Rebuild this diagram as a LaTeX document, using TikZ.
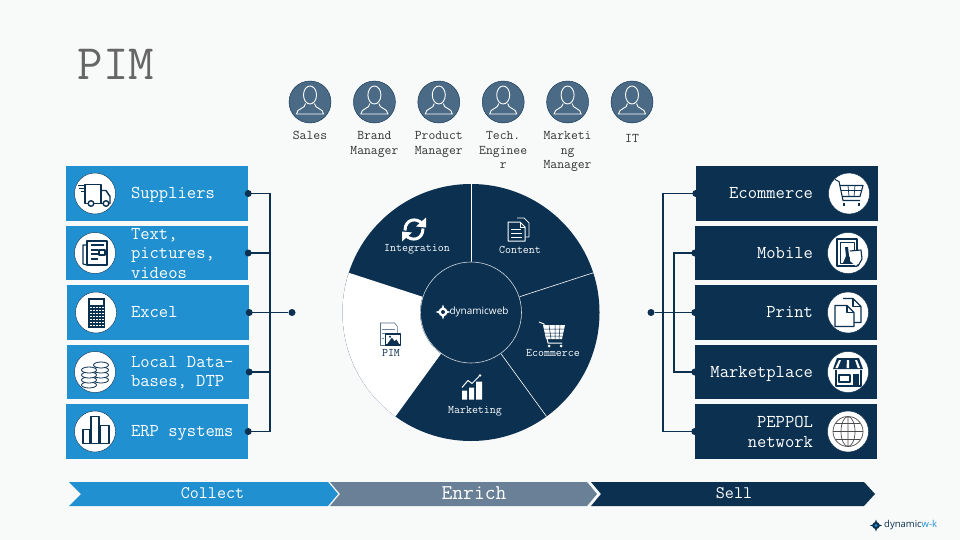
\documentclass[tikz,border=0pt]{standalone}
\usepackage{fontspec}
\usepackage{tikz}
\usetikzlibrary{positioning}
\newfontfamily\logofont{Open Sans}
\definecolor{pagebg}{HTML}{F8F9F9}
\definecolor{dwblue}{HTML}{2090D0}
\definecolor{dwdark}{HTML}{0B3050}
\definecolor{dwgrey}{HTML}{6A8096}
\definecolor{dwperson}{HTML}{4A6A85}
\tikzset{
  srcbox/.style={fill=dwblue, minimum width=182pt, minimum height=54.5pt, inner sep=0pt},
  sinkbox/.style={fill=dwdark, minimum width=182pt, minimum height=54.5pt, inner sep=0pt},
  iconring/.style={circle, fill=white, draw=dwdark, thin, minimum size=41pt, inner sep=0pt},
  person/.style={circle, fill=dwperson, draw=dwdark, thin, minimum size=42pt, inner sep=0pt},
  boxlabel/.style={inner sep=0pt, text=white, font=\ttfamily\fontsize{18.1}{19.5}\selectfont},
  boxline/.style={boxlabel, text height=13pt, text depth=3pt},
  rolelabel/.style={inner sep=0pt, align=center, text=black!80, font=\ttfamily\fontsize{13.3}{14.6}\selectfont},
  slicelabel/.style={inner sep=0pt, text=white, font=\ttfamily\fontsize{11.6}{12}\selectfont},
  steplabel/.style={inner sep=0pt, text=white, font=\ttfamily\fontsize{17.6}{20}\selectfont},
  wire/.style={draw=dwdark, line width=1.6pt},
  wiredot/.style={circle, fill=dwdark, minimum size=7pt, inner sep=0pt},
  icon/.style={draw=dwdark, line width=1.1pt, line join=round},
  iconw/.style={draw=white, line width=1pt, line join=round},
  pics/usericon/.style={code={
    \draw[white, line width=.9pt] (0,-7) ellipse (6.5 and 9);
    \draw[white, line width=.9pt] (-4.5,1.5) .. controls (-4.5,7) and (-13.5,6) .. (-13.5,12) -- (13.5,12)
      .. controls (13.5,6) and (4.5,7) .. (4.5,1.5);
  }},
  pics/truckicon/.style={code={
    \draw[icon, line width=1.4pt] (-10,7) -- (-10,-9) -- (6,-9) -- (6,10) -- (-1,10) (-7,10) -- (-10,10) -- (-10,7);
    \draw[icon, line width=1.4pt] (6,-3) -- (11,-3) -- (15,3) -- (15,10) -- (14,10) (8,10) -- (6,10);
    \draw[icon, line width=1.4pt] (-4,10) circle (2.8) (11,10) circle (2.8);
    \draw[icon] (-17,-8) -- (-10,-8) (-16,-5) -- (-10,-5) (-14,-2) -- (-10,-2);
  }},
  pics/newsicon/.style={code={
    \draw[icon, line width=1.3pt] (-8,-12) rectangle (12,12);
    \draw[icon] (-8,-8) -- (-12,-8) -- (-12,11) -- (-8,12);
    \draw[icon] (-4,-3) -- (3,-3) (-4,1) -- (3,1) (-4,6) -- (3,6);
    \draw[icon] (4,-3) rectangle (10,2);
    \draw[icon] (-4,-8) -- (9,-8);
  }},
  pics/calcicon/.style={code={
    \fill[dwdark] (-8,-15) rectangle (9,15);
    \fill[white] (-6,-13) rectangle (7,-8);
    \foreach \gx in {-5,-2,1,4,7} \foreach \gy in {-5,-2,1,4,7,10,13}
      \fill[white] (\gx-.6,\gy-.6) rectangle (\gx+.6,\gy+.6);
  }},
  pics/coinsicon/.style={code={
    \foreach \cy in {5,0,-5,-10}
      \draw[icon, line width=.8pt, fill=white] (6,\cy+3) ellipse (7.5 and 3);
    \foreach \cy in {13,8,3,-2}
      \draw[icon, line width=.8pt, fill=white] (-6,\cy) ellipse (7.5 and 3);
  }},
  pics/barsicon/.style={code={
    \draw[icon, line width=1.6pt] (-12,12) rectangle (-5,-2);
    \draw[icon, line width=1.6pt] (-4,12) rectangle (4,-15);
    \draw[icon, line width=1.6pt] (5,12) rectangle (14,-6);
  }},
  pics/carticon/.style={code={
    \draw[icon] (-14,-14) -- (-10,-12) -- (-6,7) -- (11,7);
    \draw[icon] (-9,-8) -- (14,-8) -- (11,3) -- (-7,3);
    \draw[icon, line width=.7pt] (-8,-3) -- (12,-3) (-1,-8) -- (0,3) (6,-8) -- (5,3);
    \draw[icon] (-5,9) -- (-5,12) (10,9) -- (10,12);
  }},
  pics/tableticon/.style={code={
    \draw[icon, line width=1.3pt] (-11,-14) rectangle (9,13);
    \draw[icon, line width=.8pt] (-8,-11) rectangle (6,10);
    \fill[dwdark] (-3,-6) -- (0,-6) -- (1,3) -- (5,10) -- (-5,10) -- (-2,3) -- cycle;
    \fill[white] (2,-2) -- (13,-3) -- (14,6) -- (8,13) -- (2,8) -- cycle;
    \draw[icon] (2,-2) -- (13,-3) -- (14,6) -- (10,13);
  }},
  pics/docsicon/.style={code={
    \draw[icon] (-5,-14) -- (5,-14) -- (13,-6) -- (13,10) -- (6,10);
    \draw[icon] (5,-14) -- (5,-6) -- (13,-6);
    \draw[icon, fill=white] (-13,-7) -- (-1,-7) -- (6,0) -- (6,14) -- (-13,14) -- cycle;
    \draw[icon] (-1,-7) -- (-1,0) -- (6,0);
  }},
  pics/shopicon/.style={code={
    \draw[icon, line width=1.5pt] (-12,-2) -- (-12,14) -- (13,14) -- (13,-2);
    \fill[dwdark] (-11,-14) -- (11,-14) -- (15,-3) -- (-15,-3) -- cycle;
    \foreach \sx in {-8,0,8} \fill[white] (\sx-1,-12) -- (\sx+1,-12) -- (\sx*1.4+1,-4) -- (\sx*1.4-1.5,-4) -- cycle;
    \draw[icon] (-9,3) rectangle (2,10);
    \fill[dwdark] (5,2) rectangle (11,14);
  }},
  pics/globeicon/.style={code={
    \draw[icon, line width=.7pt, draw=black!70] (0,0) circle (15);
    \draw[icon, line width=.7pt, draw=black!70] (0,0) ellipse (7 and 15) (-15,0) -- (15,0) (0,-15) -- (0,15);
    \draw[icon, line width=.7pt, draw=black!70] (-12,-8) -- (12,-8) (-12,8) -- (12,8);
  }},
  pics/refreshicon/.style={code={
    \draw[white, line width=3pt] (-9,1) .. controls (-9,-11) and (3,-12) .. (8,-6);
    \fill[white] (12,-12) -- (12,-2) -- (2,-3) -- cycle;
    \draw[white, line width=3pt] (9,-1) .. controls (9,11) and (-3,12) .. (-8,6);
    \fill[white] (-12,12) -- (-12,2) -- (-2,3) -- cycle;
  }},
  pics/contenticon/.style={code={
    \draw[iconw, line width=.7pt] (-1,-11) -- (6,-11) -- (11,-6) -- (11,8) -- (7,8);
    \draw[iconw, fill=dwdark] (-10,-7) -- (2,-7) -- (7,-2) -- (7,12) -- (-10,12) -- cycle;
    \draw[iconw, line width=.8pt] (-7,0) -- (3,0) (-7,4) -- (4,4) (-7,8) -- (4,8) (2,-7) -- (2,-2) -- (7,-2);
  }},
  pics/wheelcarticon/.style={code={
    \draw[iconw] (-13,-14) -- (-8,-12) -- (-4,7) -- (10,7);
    \fill[white] (-9,-11) -- (13,-11) -- (10,3) -- (-6,3) -- cycle;
    \draw[dwdark, line width=.5pt] (-9,-7) -- (13,-7) (-8,-3) -- (12,-3) (-6,0) -- (11,0)
      (-3,-11) -- (-1,3) (3,-11) -- (3,3) (8,-11) -- (7,3);
    \fill[white] (-3,10) circle (1.5) (9,10) circle (1.5);
  }},
  pics/pimicon/.style={code={
    \draw[icon, line width=.6pt, draw=dwdark!70] (-11,-12) -- (5,-12) -- (8,-8) -- (8,2);
    \draw[icon, line width=.6pt, draw=dwdark!70] (-11,-12) -- (-11,12) -- (-3,12);
    \draw[icon, line width=.5pt, draw=dwdark!60] (-9,-5) -- (5,-5) (-9,-1) -- (-3,-1) (-9,5) -- (-6,5);
    \draw[icon, fill=white] (-5,0) rectangle (11,12);
    \fill[dwdark] (-3,11) -- (2,4) -- (5,8) -- (7,6) -- (10,11) -- cycle;
    \fill[dwdark] (0,3) circle (1.2);
  }},
  pics/growthicon/.style={code={
    \fill[white] (-11,11) rectangle (-6,2) (-4,11) rectangle (1,-1) (3,11) rectangle (9,-7);
    \draw[iconw] (-11,-1) -- (-5,-8) -- (-1,-5) -- (6,-12);
    \fill[white] (7,-13) circle (1.3);
  }},
  pics/logomark/.style 2 args={code={
    \fill[#1] (-7.5,0) -- (-2,-2) -- (0,-7.5) -- (2,-2) -- (7.5,0) -- (2,2) -- (0,7.5) -- (-2,2) -- cycle;
    \fill[#1] (0,0) circle (4.5);
    \fill[#2] (0,0) circle (2);
  }},
}

\begin{document}
\begin{tikzpicture}[x=1pt, y=-1pt, node distance=59.5pt]

  \fill[pagebg] (0,0) rectangle (960,540);
  \useasboundingbox (0,0) rectangle (960,540);

  \node[inner sep=0pt, text=black!60, font=\ttfamily\fontsize{49.5}{50}\selectfont] (title) at (116,64) {PIM};

  % Roles along the top
  \begin{scope}[node distance=64.4pt]
    \node[person] (sales) at (310,102) {};
    \node[person, right of=sales] (brand) {};
    \node[person, right of=brand] (product) {};
    \node[person, right of=product] (tech) {};
    \node[person, right of=tech] (marketing) {};
    \node[person, right of=marketing] (it) {};
  \end{scope}
  \foreach \n in {sales,brand,product,tech,marketing,it}
    \pic at (\n) {usericon};
  \node[rolelabel, below=8pt of sales] (saleslbl) {Sales};
  \node[rolelabel, below=8pt of brand] (brandlbl) {Brand\\Manager};
  \node[rolelabel, below=8pt of product] (productlbl) {Product\\Manager};
  \node[rolelabel, below=8pt of tech] (techlbl) {Tech.\\Enginee\\r};
  \node[rolelabel, below=8pt of marketing] (marketinglbl) {Marketi\\ng\\Manager};
  \node[rolelabel, below=11pt of it] (itlbl) {IT};

  % Sources on the left
  \node[srcbox] (suppliers) at (157,193.5) {};
  \node[srcbox, below of=suppliers] (textpics) {};
  \node[srcbox, below of=textpics, xshift=1pt] (excel) {};
  \node[srcbox, below of=excel] (localdb) {};
  \node[srcbox, below of=localdb, xshift=-1pt] (erp) {};

  \node[boxline, right=65pt of suppliers.west] (supplierslbl) {Suppliers};
  \node[boxlabel, align=left, yshift=-.5pt, right=65pt of textpics.west] (textpicslbl) {Text,\\pictures,\\videos};
  \node[boxline, right=64pt of excel.west] (excellbl) {Excel};
  \node[boxlabel, align=left, yshift=-.5pt, right=64pt of localdb.west] (localdblbl) {Local Data-\\bases, DTP};
  \node[boxline, right=65pt of erp.west] (erplbl) {ERP systems};

  \node[iconring, right=8.5pt of suppliers.west] (truckring) {};
  \node[iconring, right=8.5pt of textpics.west] (newsring) {};
  \node[iconring, right=8.5pt of excel.west] (calcring) {};
  \node[iconring, right=7.5pt of localdb.west] (coinsring) {};
  \node[iconring, right=8.5pt of erp.west] (barsring) {};
  \pic at (truckring) {truckicon};
  \pic at (newsring) {newsicon};
  \pic at (calcring) {calcicon};
  \pic at (coinsring) {coinsicon};
  \pic at (barsring) {barsicon};

  % Channels on the right
  \node[sinkbox] (ecommerce) at (787,193.5) {};
  \node[sinkbox, below of=ecommerce, xshift=-1pt] (mobile) {};
  \node[sinkbox, below of=mobile] (print) {};
  \node[sinkbox, below of=print] (marketplace) {};
  \node[sinkbox, below of=marketplace] (peppol) {};

  \node[boxline, left=65pt of ecommerce.east] (ecommercelbl) {Ecommerce};
  \node[boxline, left=64pt of mobile.east] (mobilelbl) {Mobile};
  \node[boxline, left=64pt of print.east] (printlbl) {Print};
  \node[boxline, left=64pt of marketplace.east] (marketplacelbl) {Marketplace};
  \node[boxlabel, align=right, yshift=-.5pt, left=64pt of peppol.east] (peppollbl) {PEPPOL\\network};

  \node[iconring, left=8.5pt of ecommerce.east] (cartring) {};
  \node[iconring, left=8.5pt of mobile.east] (tabletring) {};
  \node[iconring, left=8.5pt of print.east] (docsring) {};
  \node[iconring, left=8.5pt of marketplace.east] (shopring) {};
  \node[iconring, left=8.5pt of peppol.east] (globering) {};
  \pic at (cartring) {carticon};
  \pic at (tabletring) {tableticon};
  \pic at (docsring) {docsicon};
  \pic at (shopring) {shopicon};
  \pic at (globering) {globeicon};

  % Wires to both sides of the wheel
  \coordinate (lbus) at (270,313);
  \coordinate (rbusa) at (663,313);
  \coordinate (rbusb) at (674,313);
  \node[wiredot] (lhub) at (292,312.5) {};
  \node[wiredot] (rhub) at (651,312.5) {};
  \foreach \n in {suppliers,textpics,localdb,erp} {
    \draw[wire] (\n.east) -| (lbus);
  }
  \draw[wire] (excel.east) -- (lhub);
  \draw[wire] (ecommerce.west) -| (rbusa);
  \draw[wire] (peppol.west) -| (rbusa);
  \draw[wire] (mobile.west) -| (rbusb);
  \draw[wire] (marketplace.west) -| (rbusb);
  \draw[wire] (print.west) -- (rhub);
  \foreach \n in {suppliers,textpics,excel,localdb,erp}
    \node[wiredot] (dot\n) at (\n.east) {};
  \foreach \n in {ecommerce,mobile,print,marketplace,peppol}
    \node[wiredot] (dot\n) at (\n.west) {};

  % The wheel
  \begin{scope}[shift={(471,312.5)}, y=1pt]
    \fill[dwdark] (0,0) circle (128.5);
    \fill[white] (0,0) -- (162:128.5) arc (162:234:128.5) -- cycle;
    \foreach \a in {90,18,-54}
      \draw[white, line width=.6pt] (\a:50.5) -- (\a:128.5);
    \draw[dwdark, line width=.8pt, fill=dwdark] (0,0) circle (50.5);
    \draw[white!80!dwdark, line width=.6pt] (0,0) circle (50.5);
  \end{scope}

  \pic at (414,229.5) {refreshicon};
  \pic at (518,229) {contenticon};
  \pic at (552,336) {wheelcarticon};
  \pic[scale=.92] at (390,334) {pimicon};
  \pic at (473,388.5) {growthicon};
  \node[slicelabel] (integrationlbl) at (417,249) {Integration};
  \node[slicelabel] (contentlbl) at (520,250) {Content};
  \node[slicelabel] (wheelcartlbl) at (553,353) {Ecommerce};
  \node[slicelabel, text=dwdark] (pimlbl) at (391,352.5) {PIM};
  \node[slicelabel] (marketinglblb) at (475,411) {Marketing};

  \pic at (443,312) {logomark={white}{dwdark}};
  \node[inner sep=0pt, text=white, font=\logofont\fontsize{10}{10}\selectfont] (wheellogo) at (479,312) {dynamicweb};

  % Steps along the bottom
  \fill[dwblue] (69,482) -- (328,482) -- (338,494) -- (328,506) -- (69,506) -- (81,494) -- cycle;
  \fill[dwgrey] (330,482) -- (587,482) -- (597,494) -- (587,506) -- (330,506) -- (340,494) -- cycle;
  \fill[dwdark] (591,482) -- (864,482) -- (875,494) -- (864,506) -- (591,506) -- (601,494) -- cycle;
  \node[steplabel] (collect) at (212.5,493.5) {Collect};
  \node[steplabel, font=\ttfamily\fontsize{21}{22}\selectfont] (enrich) at (474,493.5) {Enrich};
  \node[steplabel] (sell) at (734,493.5) {Sell};

  \pic[scale=.8] at (876,525.5) {logomark={dwdark}{dwblue}};
  \node[inner sep=0pt, anchor=west, font=\logofont\fontsize{9.5}{10}\selectfont, text=dwdark] (cornerlogo) at (884,525.5) {dynamic\textcolor{dwblue}{w-k}};

\end{tikzpicture}
\end{document}
